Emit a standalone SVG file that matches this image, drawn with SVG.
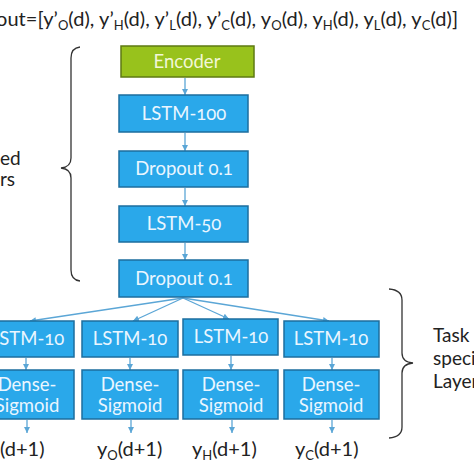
<svg xmlns="http://www.w3.org/2000/svg" width="474" height="474" viewBox="0 0 474 474">
<style>
.txt{font-family:Lato,"Open Sans","Liberation Sans",sans-serif;fill:#222;}
.bl{fill:#2AA8EA;stroke:#1C6E9E;stroke-width:1.5;}
.gr{fill:#98C21C;stroke:#5E7A12;stroke-width:1.5;}
.bt{font-family:Lato,"Open Sans","Liberation Sans",sans-serif;font-size:18.5px;fill:#EAF6FF;text-anchor:middle;font-variant-numeric:oldstyle-nums;}
.gt{font-family:Lato,"Open Sans","Liberation Sans",sans-serif;font-size:18.5px;fill:#F2F7D8;text-anchor:middle;}
.con{stroke:#5BA6D6;stroke-width:1.3;fill:none;marker-end:url(#ah);}
.brace{stroke:#333;stroke-width:1.3;fill:none;}
</style>
<defs>
<marker id="ah" markerWidth="8" markerHeight="8" refX="6" refY="4" orient="auto" markerUnits="userSpaceOnUse">
<path d="M0,1 L6,4 L0,7 Z" fill="#5BA6D6"/>
</marker>
</defs>
<rect width="474" height="474" fill="#fff"/>

<text class="txt" x="-4" y="26" font-size="20" textLength="462" lengthAdjust="spacing">out=[y’<tspan font-size="13" dy="4">O</tspan><tspan dy="-4">(d), y’</tspan><tspan font-size="13" dy="4">H</tspan><tspan dy="-4">(d), y’</tspan><tspan font-size="13" dy="4">L</tspan><tspan dy="-4">(d), y’</tspan><tspan font-size="13" dy="4">C</tspan><tspan dy="-4">(d), y</tspan><tspan font-size="13" dy="4">O</tspan><tspan dy="-4">(d), y</tspan><tspan font-size="13" dy="4">H</tspan><tspan dy="-4">(d), y</tspan><tspan font-size="13" dy="4">L</tspan><tspan dy="-4">(d), y</tspan><tspan font-size="13" dy="4">C</tspan><tspan dy="-4">(d)]</tspan></text>

<g id="shared-brace">
<path class="brace" d="M80,47 Q71,48 71,58 L71,158 Q71,167 61,168 Q71,169 71,178 L71,270 Q71,280 80,281"/>
<text class="txt" x="0" y="165" font-size="19">ed</text>
<text class="txt" x="0" y="186" font-size="19">rs</text>
</g>

<g id="task-brace">
<path class="brace" d="M389,289 Q402,290 402,300 L402,353 Q402,362 413,363 Q402,364 402,373 L402,427 Q402,437 389,438"/>
<text class="txt" x="433" y="342" font-size="19">Task</text>
<text class="txt" x="433" y="365" font-size="19">speci</text>
<text class="txt" x="433" y="388" font-size="19">Layer</text>
</g>

<g id="connectors">
<line class="con" x1="185" y1="78" x2="185" y2="95"/>
<line class="con" x1="185" y1="133" x2="185" y2="151"/>
<line class="con" x1="185" y1="188" x2="185" y2="206"/>
<line class="con" x1="185" y1="243" x2="185" y2="260"/>
<line class="con" x1="183" y1="298" x2="30" y2="321"/>
<line class="con" x1="183" y1="298" x2="133" y2="321"/>
<line class="con" x1="183" y1="298" x2="229" y2="319"/>
<line class="con" x1="183" y1="298" x2="329" y2="321"/>
<line class="con" x1="26" y1="358" x2="26" y2="370"/>
<line class="con" x1="130" y1="358" x2="130" y2="370"/>
<line class="con" x1="231" y1="356" x2="231" y2="370"/>
<line class="con" x1="332" y1="358" x2="332" y2="370"/>
<line class="con" x1="27" y1="420" x2="27" y2="433"/>
<line class="con" x1="131" y1="420" x2="131" y2="433"/>
<line class="con" x1="232" y1="420" x2="232" y2="433"/>
<line class="con" x1="332" y1="420" x2="332" y2="433"/>
</g>

<g id="encoder"><rect class="gr" x="121" y="46" width="133" height="31"/><text class="gt" x="187" y="68">Encoder</text></g>
<g id="lstm100"><rect class="bl" x="119" y="95" width="129" height="37"/><text class="bt" x="184" y="120">LSTM-100</text></g>
<g id="dropout1"><rect class="bl" x="119" y="151" width="129" height="36"/><text class="bt" x="184" y="175">Dropout 0.1</text></g>
<g id="lstm50"><rect class="bl" x="119" y="206" width="129" height="36"/><text class="bt" x="184" y="230">LSTM-50</text></g>
<g id="dropout2"><rect class="bl" x="119" y="260" width="129" height="37"/><text class="bt" x="184" y="285">Dropout 0.1</text></g>

<g id="lstm10-1"><rect class="bl" x="-21" y="321" width="95" height="36"/><text class="bt" x="27" y="345">LSTM-10</text></g>
<g id="lstm10-2"><rect class="bl" x="82" y="321" width="96" height="36"/><text class="bt" x="130" y="345">LSTM-10</text></g>
<g id="lstm10-3"><rect class="bl" x="183" y="319" width="95" height="36"/><text class="bt" x="231" y="343">LSTM-10</text></g>
<g id="lstm10-4"><rect class="bl" x="284" y="321" width="95" height="36"/><text class="bt" x="331" y="345">LSTM-10</text></g>

<g id="dense-1"><rect class="bl" x="-21" y="370" width="95" height="49"/><text class="bt" x="27" y="391">Dense-</text><text class="bt" x="27" y="412">Sigmoid</text></g>
<g id="dense-2"><rect class="bl" x="82" y="370" width="96" height="49"/><text class="bt" x="130" y="391">Dense-</text><text class="bt" x="130" y="412">Sigmoid</text></g>
<g id="dense-3"><rect class="bl" x="183" y="370" width="95" height="49"/><text class="bt" x="231" y="391">Dense-</text><text class="bt" x="231" y="412">Sigmoid</text></g>
<g id="dense-4"><rect class="bl" x="284" y="370" width="95" height="49"/><text class="bt" x="331" y="391">Dense-</text><text class="bt" x="331" y="412">Sigmoid</text></g>

<g id="labels">
<text class="txt" x="0" y="456" font-size="20">(d+1)</text>
<text class="txt" x="97" y="456" font-size="20">y<tspan font-size="13" dy="4">O</tspan><tspan dy="-4">(d+1)</tspan></text>
<text class="txt" x="192" y="456" font-size="20">y<tspan font-size="13" dy="4">H</tspan><tspan dy="-4">(d+1)</tspan></text>
<text class="txt" x="295" y="456" font-size="20">y<tspan font-size="13" dy="4">C</tspan><tspan dy="-4">(d+1)</tspan></text>
</g>
</svg>
